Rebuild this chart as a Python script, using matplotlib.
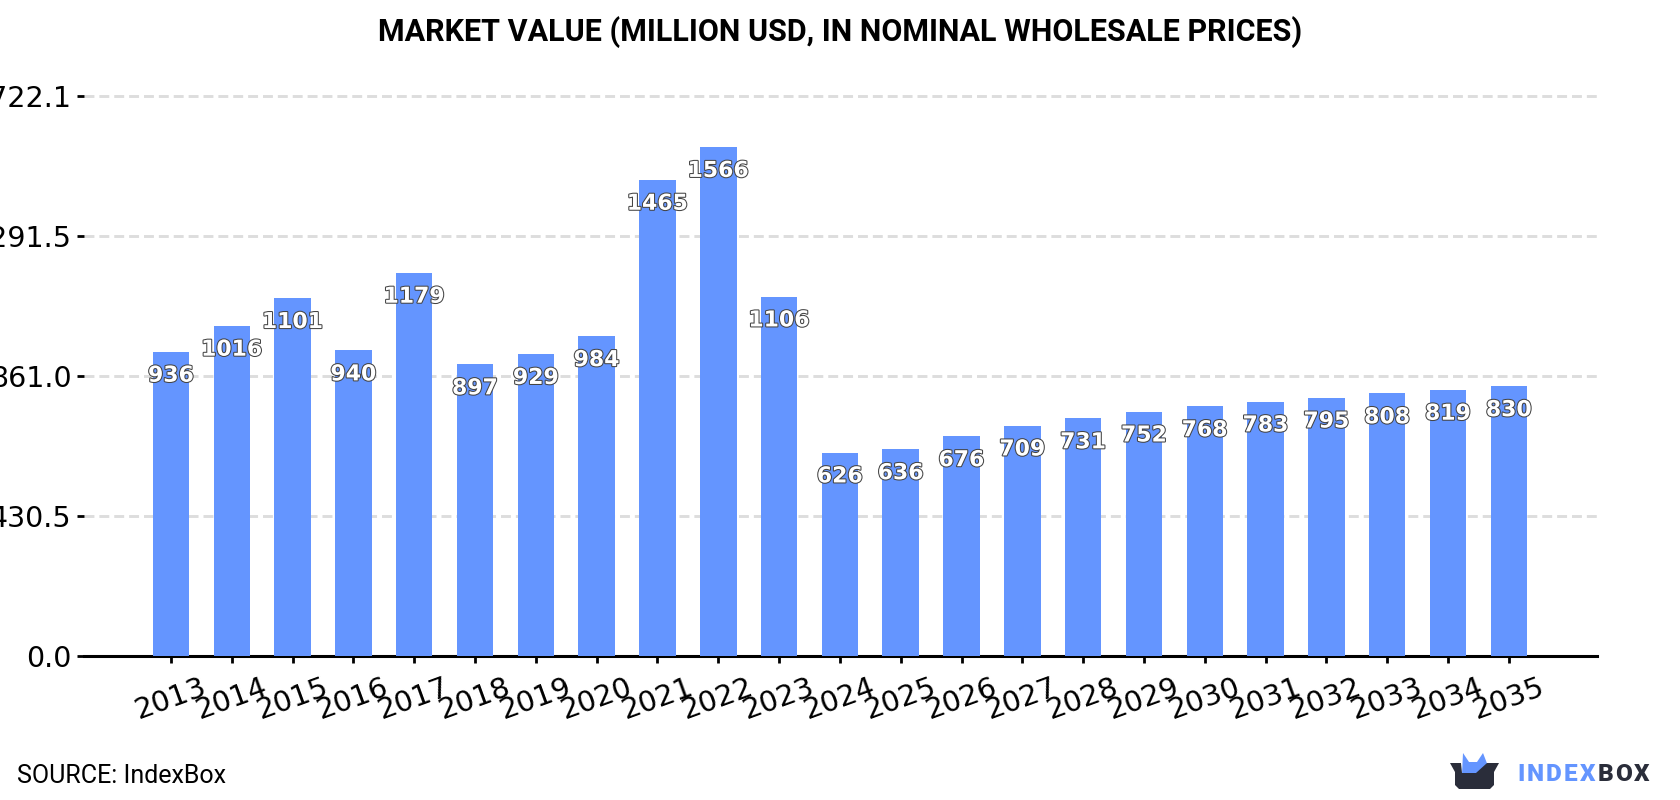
import matplotlib
matplotlib.use('Agg')
import matplotlib.pyplot as plt
import matplotlib.patheffects as pe
from matplotlib.patches import Polygon
import numpy as np

years = [2013, 2014, 2015, 2016, 2017, 2018, 2019, 2020, 2021, 2022, 2023, 2024,
         2025, 2026, 2027, 2028, 2029, 2030, 2031, 2032, 2033, 2034, 2035]
values = [936, 1016, 1101, 940, 1179, 897, 929, 984, 1465, 1566, 1106, 626,
          636, 676, 709, 731, 752, 768, 783, 795, 808, 819, 830]
y_ticks = [0.0, 430.5, 861.0, 1291.5, 1722.1]

BLUE = '#6495FF'
DARK = '#2A2D3A'
W, H = 1680, 800
BASE_Y = 656

fig = plt.figure(figsize=(W / 100, H / 100), dpi=100, facecolor='white')
ax = fig.add_axes([84 / W, 1 - BASE_Y / H, (1597 - 84) / W, (BASE_Y - 80) / H])

x = np.arange(len(years))
ax.bar(x, values, width=0.6, color=BLUE, zorder=3)

# value labels sit just under the top of each bar
for xi, v in zip(x, values):
    ax.annotate(str(v), (xi, v), xytext=(0, -17.2), textcoords='offset points',
                ha='center', va='center', fontsize=15.8, fontweight='bold',
                color='white', zorder=5, annotation_clip=False,
                path_effects=[pe.withStroke(linewidth=1.5, foreground='#444444')])

ax.set_xlim(-1.43, 23.45)
ax.set_ylim(0, 1722.1 * (BASE_Y - 80) / (BASE_Y - 96.3))
ax.set_xticks(x)
ax.set_xticklabels(years, rotation=20, fontsize=21)
ax.set_yticks(y_ticks)
ax.set_yticklabels([f'{t:.1f}' for t in y_ticks], fontsize=20.5)
ax.tick_params(axis='both', length=5, width=2, color='black')
ax.tick_params(axis='x', pad=7)
ax.tick_params(axis='y', pad=4)

ax.grid(axis='y', color='#DDDDDD', linestyle='--', linewidth=2.1, dashes=(3.4, 1.7), zorder=0)
ax.set_axisbelow(True)
for side in ['top', 'right', 'left']:
    ax.spines[side].set_visible(False)
ax.spines['bottom'].set_linewidth(2.2)

fig.text(0.5, 1 - 32 / H, 'MARKET VALUE (MILLION USD, IN NOMINAL WHOLESALE PRICES)',
         ha='center', va='center', fontsize=22, fontweight='bold',
         family='Roboto', color='black')
fig.text(17 / W, 1 - 776 / H, 'SOURCE: IndexBox', ha='left', va='center',
         fontsize=18, family='Roboto', color='black')

# logo, drawn in pixel coordinates on an overlay
logo = fig.add_axes([0, 0, 1, 1], facecolor='none')
logo.set_xlim(0, W)
logo.set_ylim(H, 0)
logo.axis('off')
logo.add_patch(Polygon([(1462, 774), (1463, 753), (1469, 762), (1477, 762), (1483, 753),
                        (1488, 766), (1476, 775)],
                       closed=True, color=BLUE, lw=0))
logo.add_patch(Polygon([(1450, 763), (1461, 763), (1462, 773), (1476, 773), (1487, 763),
                        (1499, 763), (1494, 772), (1494, 785), (1490, 789), (1459, 789),
                        (1455, 785), (1455, 772)],
                       closed=True, color=DARK, lw=0))


def spaced_text(xpos, string, color, gap=2.2):
    # wordmark letters are placed one by one to get the wide tracking
    renderer = fig.canvas.get_renderer()
    for ch in string:
        t = logo.text(xpos, 774.5, ch, ha='left', va='center', fontsize=17.5,
                      fontweight='black', family='Roboto', color=color)
        xpos += t.get_window_extent(renderer).width + gap
    return xpos


end = spaced_text(1517, 'INDEX', BLUE)
spaced_text(end, 'BOX', DARK)

fig.savefig('out.png', dpi=100)
